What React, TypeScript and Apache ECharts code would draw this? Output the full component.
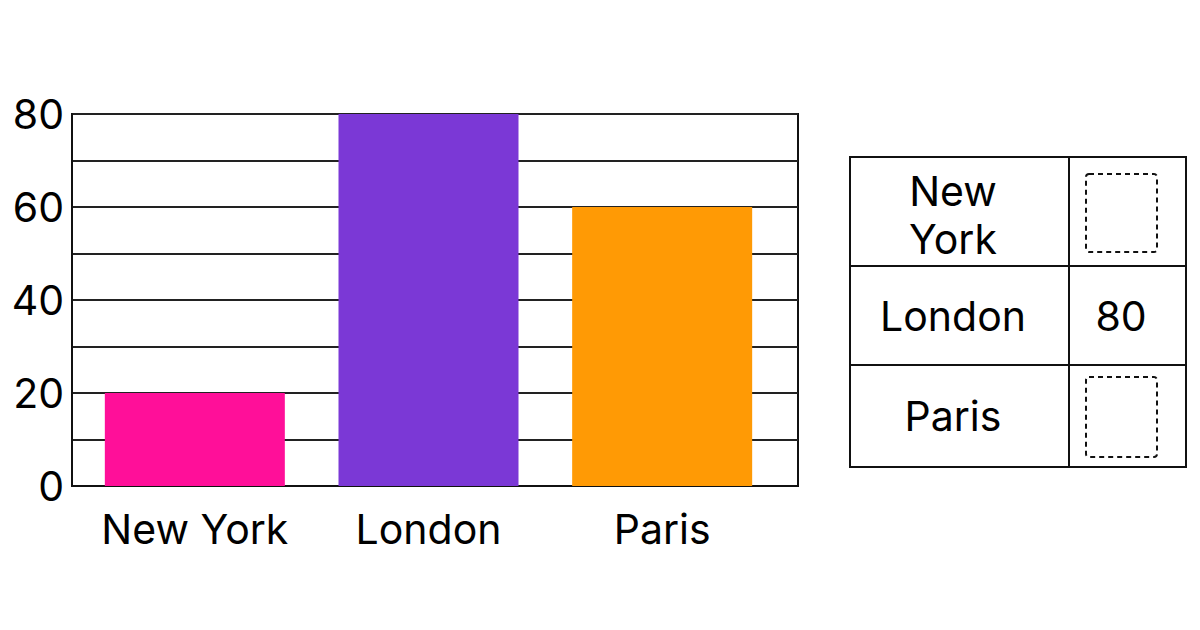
import React, { useEffect, useRef } from "react";
import * as echarts from "echarts";

const categories = ["New York", "London", "Paris"];
const values = [20, 80, 60];
const barColors = ["#FF0F99", "#7B38D6", "#FF9A05"];
const yTickLabels = ["0", "20", "40", "60", "80"];
const tableRows = ["New\nYork", "London", "Paris"];
const tableValues = ["", "80", ""];

const FONT = "Inter";
const FS = 41;

export default function App() {
  const ref = useRef<HTMLDivElement>(null);
  useEffect(() => {
    document.body.style.margin = "0";
    const chart = echarts.init(ref.current!, null, { renderer: "svg" });

    const graphics: any[] = [];
    const tx0 = 850, tx1 = 1069, tx2 = 1186;
    const rowY = [157, 266, 365, 467];
    graphics.push({
      type: "rect",
      shape: { x: tx0, y: rowY[0], width: tx2 - tx0, height: rowY[3] - rowY[0] },
      style: { fill: "#fff", stroke: "#111", lineWidth: 2 },
    });
    graphics.push({ type: "line", shape: { x1: tx1, y1: rowY[0], x2: tx1, y2: rowY[3] }, style: { stroke: "#111", lineWidth: 2 } });
    for (let i = 1; i < 3; i++) {
      graphics.push({ type: "line", shape: { x1: tx0, y1: rowY[i], x2: tx2, y2: rowY[i] }, style: { stroke: "#111", lineWidth: 2 } });
    }
    tableRows.forEach((name, i) => {
      const cy = (rowY[i] + rowY[i + 1]) / 2 + (i === 0 ? 3 : 0);
      graphics.push({
        type: "text",
        x: 953,
        y: cy,
        style: { text: name, font: `${FS}px ${FONT}`, fill: "#000", align: "center", verticalAlign: "middle", lineHeight: 48 },
      });
      if (tableValues[i]) {
        graphics.push({
          type: "text",
          x: 1121,
          y: cy,
          style: { text: tableValues[i], font: `${FS}px ${FONT}`, fill: "#000", align: "center", verticalAlign: "middle" },
        });
      } else {
        const top = i === 0 ? 174 : 377;
        const bot = i === 0 ? 252 : 457;
        graphics.push({
          type: "rect",
          shape: { x: 1086, y: top, width: 71, height: bot - top, r: 3 },
          style: { fill: "none", stroke: "#111", lineWidth: 2, lineDash: [5, 4] },
        });
      }
    });

    chart.setOption({
      animation: false,
      grid: [
        { left: 72, right: 402, top: 114, bottom: 144, show: true, borderColor: "#111", borderWidth: 2, backgroundColor: "transparent" },
        { left: 78, right: 421, top: 114, bottom: 144 },
      ],
      xAxis: [
        {
          type: "category",
          gridIndex: 0,
          data: categories,
          axisLabel: { show: false },
          axisTick: { show: false },
          axisLine: { show: true, lineStyle: { color: "#111", width: 2 } },
        },
        {
          type: "category",
          gridIndex: 1,
          data: categories,
          axisLine: { show: false },
          axisTick: { show: false },
          axisLabel: { color: "#000", fontFamily: FONT, fontSize: FS, margin: 22, interval: 0, hideOverlap: false },
        },
      ],
      yAxis: [
        {
          type: "value",
          gridIndex: 0,
          min: 0,
          max: 80,
          interval: 10,
          axisLine: { show: true, lineStyle: { color: "#111", width: 2 } },
          axisTick: { show: false },
          splitLine: { show: true, lineStyle: { color: "#222", width: 2 } },
          axisLabel: {
            color: "#000",
            fontFamily: FONT,
            fontSize: FS,
            margin: 8,
            formatter: (v: number) => (yTickLabels.includes(String(v)) ? String(v) : ""),
          },
        },
        { type: "value", gridIndex: 1, min: 0, max: 80, show: false, splitLine: { show: false } },
      ],
      series: [
        {
          type: "bar",
          xAxisIndex: 1,
          yAxisIndex: 1,
          barWidth: 180,
          data: values.map((v, i) => ({ value: v, itemStyle: { color: barColors[i] } })),
        },
      ],
      graphic: graphics,
    });
    return () => chart.dispose();
  }, []);
  return <div ref={ref} style={{ width: 1200, height: 630 }} />;
}
